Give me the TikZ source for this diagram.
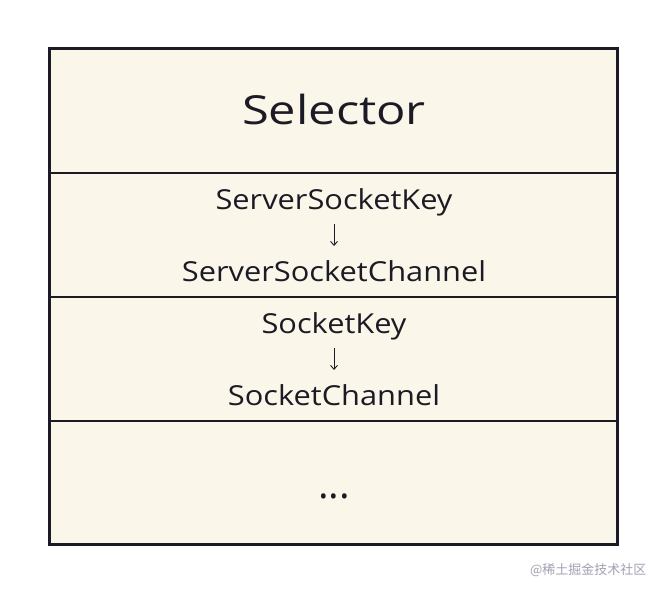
\documentclass[tikz,border=0pt]{standalone}
\usepackage{fontspec}
\setmainfont{Open Sans}
\newfontfamily\handA[FakeStretch=1.12]{Open Sans}
\newfontfamily\handB[FakeStretch=1.22]{Open Sans}
\newfontfamily\cjk{Noto Sans CJK SC}
\usetikzlibrary{arrows.meta}
\definecolor{cream}{HTML}{FAF7EA}
\definecolor{ink}{HTML}{1C1A24}
\definecolor{wm}{HTML}{A59FB2}
\begin{document}
\begin{tikzpicture}[x=1pt,y=-1pt,
  lbl/.style={text=ink,font=\handA\fontsize{27.5}{30}\selectfont,inner sep=0pt,anchor=base},
  link/.style={draw=ink,line width=0.9pt,-{Straight Barb[length=4pt,width=7pt]}}]
\useasboundingbox[fill=white] (0,0) rectangle (668,594);
\fill[cream] (49,49) rectangle (617,544);
\draw[ink,line width=2pt] (49,173) -- (617,173);
\draw[ink,line width=2pt] (49,297) -- (617,297);
\draw[ink,line width=2pt] (49,421) -- (617,421);
\draw[ink,line width=3pt] (49,49) rectangle (617,544);
\node[lbl,font=\handB\fontsize{40}{44}\selectfont] (sel) at (334,124) {Selector};
\node[lbl] (k1) at (334,209) {ServerSocketKey};
\node[lbl] (c1) at (334,281) {ServerSocketChannel};
\node[lbl] (k2) at (334,333) {SocketKey};
\node[lbl] (c2) at (334,405) {SocketChannel};
\node[lbl,font=\fontsize{40}{44}\selectfont] (dots) at (334,498) {...};
\draw[link] (334,224) -- (334,246);
\draw[link] (334,348) -- (334,370);
\node[text=wm,font=\cjk\fontsize{13}{14}\selectfont,anchor=east] (wmk) at (650,570) {@稀土掘金技术社区};
\end{tikzpicture}
\end{document}
